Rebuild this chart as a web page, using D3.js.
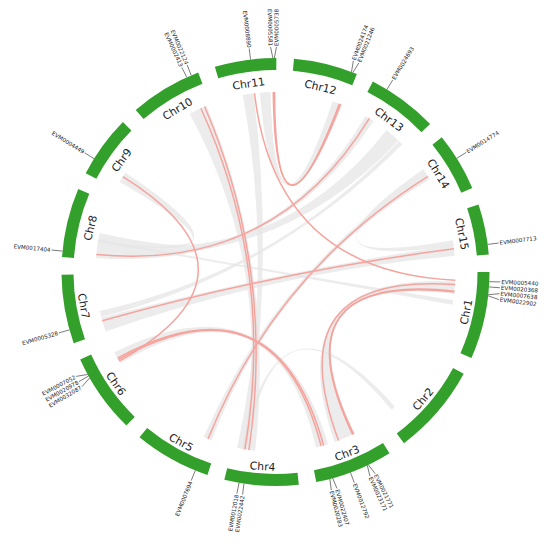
<!DOCTYPE html>
<html><head><meta charset="utf-8">
<script src="https://cdn.jsdelivr.net/npm/d3@7/dist/d3.min.js"></script>
<style>body{margin:0;background:#fff}</style>
</head><body>
<svg id="c" width="550" height="548"></svg>
<script>
// ---------- data ----------
const chromosomes = ["Chr1","Chr2","Chr3","Chr4","Chr5","Chr6","Chr7","Chr8","Chr9","Chr10","Chr11","Chr12","Chr13","Chr14","Chr15"];
const chromLengths = [47.4, 49.4, 42.4, 40.2, 41.8, 43.4, 37.4, 37.6, 34.0, 39.2, 33.4, 34.8, 38.4, 31.8, 27.4]; // Mb
const gapMb = 9.43;

// highlighted gene pairs (pink links)
const linkGene1  = ["EVM0002413","EVM0022124","EVM0008890","EVM0024693","EVM0004449","EVM0014774","EVM0007713","EVM0020978","EVM0007052","EVM0020368","EVM0007638","EVM0022902","EVM0005581","EVM0005738"];
const linkChrom1 = ["Chr10","Chr10","Chr11","Chr13","Chr9","Chr14","Chr15","Chr6","Chr6","Chr1","Chr1","Chr1","Chr11","Chr11"];
const linkPos1   = [32.56, 35.16, 19.53, 8.68, 8.98, 13.86, 22.02, 33.46, 34.46, 8.0, 12.2, 12.8, 31.53, 32.33];
const linkGene2  = ["EVM0012018","EVM0022442","EVM0005440","EVM0017404","EVM0032087","EVM0007694","EVM0005328","EVM0020283","EVM0022407","EVM0012792","EVM0023171","EVM0021771","EVM0021246","EVM0024174"];
const linkChrom2 = ["Chr4","Chr4","Chr1","Chr8","Chr6","Chr5","Chr7","Chr3","Chr3","Chr3","Chr3","Chr3","Chr12","Chr12"];
const linkPos2   = [32.12, 29.52, 5.2, 3.22, 32.26, 6.9, 7.44, 34.94, 33.34, 23.34, 13.54, 12.94, 32.5, 31.7];

// background collinear blocks (grey ribbons)
const blockChrom1 = ["Chr10","Chr11","Chr11","Chr13","Chr13","Chr13","Chr14","Chr14","Chr15","Chr8","Chr4","Chr1","Chr6","Chr9"];
const blockStart1 = [24.56, 11.93, 22.93, 5.88, 22.0, 32.5, 11.06, 8.5, 19.5, 11.0, 31.0, 6.0, 30.66, 4.98];
const blockEnd1   = [36.56, 18.93, 29.73, 11.88, 32.0, 35.5, 16.06, 11.5, 26.5, 13.0, 34.0, 14.0, 38.66, 11.98];
const blockChrom2 = ["Chr4","Chr4","Chr12","Chr8","Chr8","Chr7","Chr5","Chr15","Chr7","Chr1","Chr2","Chr3","Chr3","Chr8"];
const blockStart2 = [25.52, 31.52, 27.1, 1.0, 5.02, 9.84, 4.5, 16.5, 0.3, 18.0, 40.0, 12.0, 30.34, 12.02];
const blockEnd2   = [33.52, 37.12, 33.7, 5.02, 12.02, 13.84, 9.9, 20.0, 9.5, 21.0, 43.0, 26.0, 38.34, 17.02];

// ---------- layout ----------
const cx = 275.5, cy = 272;
const R_IN = 202, R_OUT = 214, R_LINK = 180;
const svg = d3.select("#c");
const g = svg.append("g").attr("transform", `translate(${cx},${cy})`);

const offsets = []; let acc = 0;
chromLengths.forEach(L => { offsets.push(acc); acc += L + gapMb; });
const angle = d3.scaleLinear().domain([0, acc]).range([Math.PI / 2, Math.PI / 2 + 2 * Math.PI]);
const ci = name => chromosomes.indexOf(name);
const A = (chr, pos) => angle(offsets[ci(chr)] + pos);
const pt = (a, r) => [r * Math.sin(a), -r * Math.cos(a)];
const deg = a => (a * 180 / Math.PI) % 360;

// grey ribbons
const ribbon = d3.ribbon().radius(R_LINK);
const blocks = blockChrom1.map((c, i) => ({
  source: { startAngle: A(c, blockStart1[i]), endAngle: A(c, blockEnd1[i]) },
  target: { startAngle: A(blockChrom2[i], blockStart2[i]), endAngle: A(blockChrom2[i], blockEnd2[i]) }
}));
g.append("g").selectAll("path").data(blocks).join("path")
  .attr("d", ribbon).attr("fill", "#e6e6e6").attr("fill-opacity", 0.75).attr("stroke", "none");

// pink links
const links = linkGene1.map((gname, i) => ({ a: A(linkChrom1[i], linkPos1[i]), b: A(linkChrom2[i], linkPos2[i]) }));
g.append("g").selectAll("path").data(links).join("path")
  .attr("d", d => { const p = d3.path(); const s = pt(d.a, R_LINK), t = pt(d.b, R_LINK);
    p.moveTo(s[0], s[1]); p.quadraticCurveTo(0, 0, t[0], t[1]); return p.toString(); })
  .attr("fill", "none").attr("stroke", "#f6a39d").attr("stroke-width", 1.5);

// chromosome bands
const arc = d3.arc().innerRadius(R_IN).outerRadius(R_OUT);
const chromData = chromosomes.map((c, i) => ({ name: c, startAngle: angle(offsets[i]), endAngle: angle(offsets[i] + chromLengths[i]) }));
g.append("g").selectAll("path").data(chromData).join("path")
  .attr("d", arc).attr("fill", "#34a02c");

// chromosome names
g.append("g").selectAll("text").data(chromData).join("text")
  .each(function (d) {
    const m = (d.startAngle + d.endAngle) / 2; const md = deg(m);
    const flip = md > 90 && md < 270;
    const p = pt(m, flip ? 195 : 190);
    d3.select(this).attr("transform", `translate(${p[0]},${p[1]}) rotate(${flip ? md - 180 : md})`);
  })
  .attr("text-anchor", "middle").attr("dominant-baseline", "central")
  .attr("font-family", "DejaVu Sans, sans-serif").attr("font-size", 10.8).attr("fill", "#222")
  .text(d => d.name);

// gene labels
const ends = [];
linkGene1.forEach((gname, i) => {
  ends.push({ gene: gname, chr: linkChrom1[i], a: A(linkChrom1[i], linkPos1[i]) });
  ends.push({ gene: linkGene2[i], chr: linkChrom2[i], a: A(linkChrom2[i], linkPos2[i]) });
});
const sep = 1.5 * Math.PI / 180;
d3.groups(ends, d => d.chr).forEach(([, arr]) => {
  arr.sort((x, y) => x.a - y.a);
  arr.forEach(d => d.la = d.a);
  for (let it = 0; it < 200; it++) {
    for (let i = 0; i < arr.length - 1; i++) {
      const diff = arr[i + 1].la - arr[i].la;
      if (diff < sep) { const s = (sep - diff) / 2; arr[i].la -= s; arr[i + 1].la += s; }
    }
  }
});
const lg = g.append("g");
lg.selectAll("line").data(ends).join("line")
  .attr("x1", d => pt(d.a, R_OUT)[0]).attr("y1", d => pt(d.a, R_OUT)[1])
  .attr("x2", d => pt(d.la, 225)[0]).attr("y2", d => pt(d.la, 225)[1])
  .attr("stroke", "#222").attr("stroke-width", 0.6);
lg.selectAll("text").data(ends).join("text")
  .each(function (d) {
    const ad = deg(d.la); const left = ad > 180;
    const p = pt(d.la, 226);
    d3.select(this).attr("transform", `translate(${p[0]},${p[1]}) rotate(${left ? ad + 90 : ad - 90})`)
      .attr("text-anchor", left ? "end" : "start");
  })
  .attr("dominant-baseline", "central")
  .attr("font-family", "DejaVu Sans, sans-serif").attr("font-size", 5.6).attr("fill", "#222")
  .text(d => d.gene);
</script>
</body></html>
